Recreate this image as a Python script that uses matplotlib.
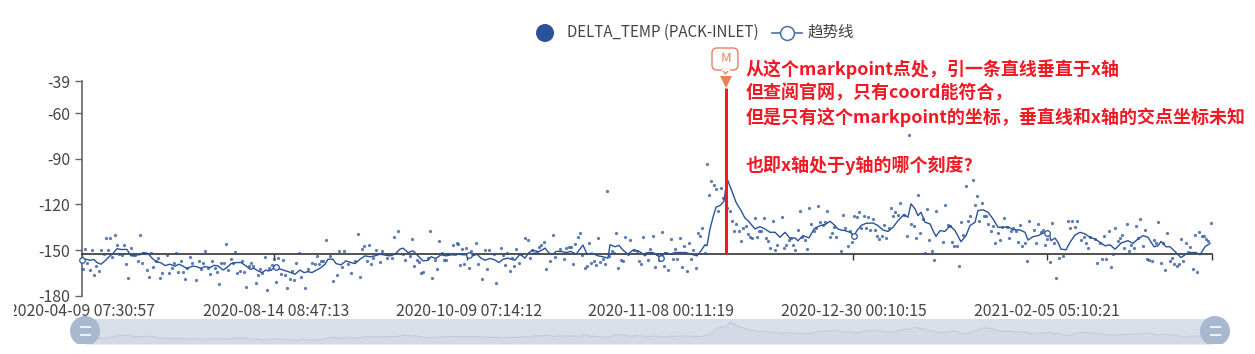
import numpy as np
import matplotlib
matplotlib.use('Agg')
import matplotlib.pyplot as plt
from matplotlib.patches import Circle, FancyBboxPatch, Polygon, Rectangle
from matplotlib.transforms import Bbox

plt.rcParams['font.family'] = ['Noto Sans CJK SC', 'DejaVu Sans']

W, H = 1255, 354

# sample position along the category axis / value
trend_x = [0,4,8,12,15,19,23,28,31,35,39,45,49,53,58,61,66,70,74,79,83,88,93,97,101,105,110,114,119,123,128,132,136,141,145,149,154,159,164,168,172,176,180,184,
    186,189,193,196,201,204,209,213,218,222,226,230,234,239,243,246,251,254,259,264,269,273,278,283,288,293,298,303,308,313,318,321,326,331,336,341,346,349,354,359,364,369,374,
    376,381,387,391,395,399,403,408,412,417,421,426,430,433,438,443,447,451,456,460,463,468,471,474,479,484,489,494,501,505,510,516,521,526,528,533,537,541,546,551,556,559,563,
    566,571,576,579,583,588,593,599,604,609,615,619,623,625,628,631,634,638,642,645,649,654,659,663,666,673,678,683,688,693,698,703,708,713,716,721,727,732,738,743,748,753,
    756,759,763,768,772,775,779,784,791,796,801,806,811,816,822,826,829,833,836,839,843,848,851,854,858,863,868,873,879,884,888,893,896,901,906,911,916,921,926,931,938,943,
    946,951,956,961,967,969,973,976,979,984,988,993,998,1003,1008,1013,1018,1023,1028,1033,1039,1046,1051,1056,1061,1066,1072,1076,1079,1084,1088,1094,1099,1104,1109,1114,1118,1123,1128]
trend_val = [-156.7,-156,-156.7,-156.2,-158.2,-159.3,-157.1,-153.8,-152.2,-149.1,-149.6,-149.6,-153.8,-153.1,-153.1,-151.6,-152.2,-155.3,-157.5,-158.4,-160.2,-159.3,-160.6,-159.3,-160.6,-162.2,-160.6,-160.8,-162,-160.8,-161.5,-160,-160.4,-163.1,-161.5,-158.9,-158.2,-158.2,-160.4,-162.6,-162,-163.7,-164.8,-163.1,
    -163.7,-163.3,-161,-162,-163.1,-163.7,-164.8,-165.9,-163.1,-164.8,-164.2,-164.8,-163.3,-161.5,-159.3,-156,-156,-158.9,-159.7,-157.1,-158.2,-158.9,-156,-153.8,-154.4,-153.8,-152.7,-153.3,-153.8,-152.7,-149.4,-148.7,-151.6,-150.5,-153.8,-157.1,-156.7,-154.4,-155.5,-153.1,-153.8,-153.1,-153.3,
    -152.7,-153.1,-153.1,-153.8,-152.7,-155.3,-156.7,-155.5,-156.2,-158.2,-156,-155.3,-156.2,-156.7,-152.7,-155.3,-151.6,-150,-151.1,-150,-148.7,-152.7,-152.7,-150.9,-150.9,-151.6,-150.9,-152.7,-146.7,-152.7,-152,-153.8,-154.4,-155.3,-146.5,-147.8,-146.9,-150,-152.7,-150,-150.5,-151.6,-153.8,
    -151.6,-151.6,-153.8,-155.3,-151.6,-152.7,-151.6,-151.6,-151.6,-152.7,-153.8,-150.5,-146.5,-147.2,-136.1,-128.4,-121.8,-120.7,-117.8,-103,-109.6,-118.5,-124,-129,-130.6,-136.1,-134.6,-136.1,-138.3,-138.3,-141.6,-138.3,-142.3,-142,-143.9,-140.5,-142,-136.1,-133.9,-133.3,-131,-133.9,
    -136.1,-136.8,-137.2,-138.3,-140.5,-137.2,-133.9,-132.4,-132.2,-133.9,-136.8,-137.7,-135,-130.6,-126.6,-128.4,-119.6,-122.9,-127.3,-125.1,-131.7,-132.8,-137.2,-141,-137.2,-137.7,-133.9,-137.2,-144.5,-140.5,-133.9,-131.7,-124,-123.5,-125.1,-129.5,-135,-135,-134.6,-136.6,-136.8,-138.3,
    -143.4,-141.2,-140.5,-138.8,-138.8,-143.8,-142.1,-144.9,-149.4,-149.8,-144.9,-140.1,-138.3,-139.4,-141.6,-142.7,-144.9,-147.2,-146.5,-149.4,-145.4,-143.8,-145.6,-142.7,-140.5,-141.6,-147.8,-147.2,-144.3,-147.8,-147.8,-151.6,-154.9,-152.7,-151.6,-151.6,-153.1,-147.8,-145.6]

dot_x = [1,3,5,8,10,12,14,17,19,22,24,26,28,30,33,35,37,40,42,44,46,49,51,53,56,58,60,62,65,67,69,71,74,76,78,80,85,87,90,92,94,96,99,101,103,105,108,110,114,117,119,121,123,126,128,130,133,135,137,139,142,144,146,149,151,153,155,158,160,162,164,167,169,171,174,176,178,180,183,185,
    187,190,192,194,196,199,201,203,205,208,210,212,214,217,219,223,226,230,233,235,237,239,241,244,248,251,255,257,260,262,266,269,273,276,278,280,282,285,287,289,291,294,298,300,305,310,312,316,321,323,328,330,332,335,337,339,341,346,348,350,353,355,357,360,362,364,366,371,375,
    376,378,380,382,384,387,389,394,396,400,403,405,407,412,414,419,421,423,425,428,430,432,434,437,439,443,446,448,450,452,455,457,459,462,464,468,471,473,478,482,484,487,489,491,493,496,498,500,503,505,507,509,512,514,516,518,521,523,525,527,530,532,534,536,539,541,543,546,548,552,555,557,559,561,564,
    566,568,571,573,575,577,580,582,584,586,589,591,593,595,598,600,602,605,607,609,611,614,616,618,620,623,625,627,629,632,634,636,639,641,645,648,650,652,654,657,659,661,664,666,668,670,673,675,677,679,682,684,686,688,691,693,695,700,702,704,707,709,711,713,716,718,720,723,725,727,729,732,734,736,738,741,743,745,748,750,752,754,
    759,761,763,766,768,770,772,775,777,779,782,784,786,788,791,793,795,797,800,802,804,807,809,811,813,816,818,822,825,827,829,832,834,836,838,841,843,845,847,850,852,854,861,863,866,868,870,872,875,877,879,881,884,886,888,891,893,895,897,900,902,904,906,909,911,913,916,918,920,922,925,927,929,931,934,936,938,940,943,945,
    947,952,954,956,959,961,963,965,968,970,972,974,977,981,986,988,990,993,995,999,1002,1004,1006,1008,1013,1015,1018,1020,1022,1024,1027,1029,1031,1033,1036,1038,1040,1042,1045,1047,1049,1052,1054,1056,1058,1061,1063,1065,1067,1070,1072,1074,1076,1079,1081,1083,1085,1088,1090,1092,1095,1097,1099,1101,1104,1106,1108,1111,1113,1115,1117,1120,1122,1124,1126,1129]
dot_val = [-162.2,-149.4,-158.6,-163.1,-150,-166.6,-160.4,-163.7,-149.8,-152.7,-142.1,-150,-142.3,-154.4,-139.9,-146.7,-152.7,-153.1,-146.9,-158.9,-168.6,-148.7,-153.3,-153.1,-157.1,-139.9,-158.2,-152,-163.3,-167.5,-152,-160.8,-157.1,-155.5,-168.1,-164.8,-153.1,-165.3,-162,-158.2,-151.6,-164.4,-157.5,-164.4,-169,-162,-154.4,-158.6,-169.7,-157.1,-162.6,-158.4,-150.7,-161.5,-165.9,-157.1,-162,-164.2,-172.1,-158.6,-158.6,-146.3,-163.3,-155.8,-158.2,-151.4,-164.8,-163.7,-157.5,-164.4,-174.5,-160.4,-158.6,-160.4,-171.9,-166.4,-162.2,-164.8,-154.4,-176.1,
    -162,-159.5,-155.8,-171,-155.5,-165.5,-156.7,-166.6,-175,-169,-163.9,-169.9,-158.6,-151.6,-167.7,-174.8,-162.2,-158.6,-159.1,-154.2,-159.3,-157.3,-157.1,-143.4,-153.8,-170.3,-166.6,-150.9,-161.3,-150.5,-159.3,-164.8,-157.1,-139.2,-167.9,-149.6,-147.6,-157.1,-146.7,-159.3,-155.5,-150,-157.8,-150.5,-154.9,-154.9,-141.4,-137.2,-152.7,-156.7,-153.8,-142.5,-160.4,-156.7,-157.8,-164.8,-164.2,-154.9,-137.4,-168.4,-156.7,-162.2,-144.1,-152,-156.7,-156.4,-152.7,-146.9,-145.6,
    -145.8,-160,-149.6,-158.9,-148.9,-161.7,-150.5,-145.6,-159.3,-168.8,-149.8,-162.2,-150,-152.7,-171.4,-148.7,-153.3,-159.5,-152,-163.7,-154.9,-160.4,-149.4,-158.2,-152.7,-142.3,-143.4,-154.9,-150,-151.6,-151.1,-147.8,-146.5,-145,-162.2,-157.3,-140.1,-154.7,-149.4,-155.8,-148.5,-147.8,-148.3,-159.1,-146,-141.2,-139,-153.3,-162,-160.6,-145.6,-158.2,-157.3,-160,-142.1,-158,-155.8,-159.3,-111.4,-153.6,-150.5,-151.6,-138.8,-161.5,-156.7,-157.5,-141.4,-152.7,-143.4,-150,-150.9,-157.1,-159.3,-141.6,-151.6,
    -156.4,-149.6,-140.8,-161.1,-152.7,-156.4,-138.3,-160.4,-152.2,-163.3,-142.7,-156,-149.4,-156,-142.3,-161.1,-147.2,-163.7,-145.6,-155.6,-150,-161.7,-139,-140.8,-135.5,-151.6,-93.5,-113.6,-104.3,-107.4,-109.6,-124,-109,-115.6,-122.2,-124.2,-130.6,-137.7,-132.8,-137.2,-144,-135.5,-133.9,-139.4,-141.2,-142.3,-128.8,-141.6,-137.2,-137.2,-128.8,-142,-143.9,-148.7,-130.6,-149.8,-146.9,-128.2,-148.5,-146.5,-143.4,-142,-146.9,-149.8,-136.8,-124.2,-141.2,-143.4,-149.6,-122.6,-132.8,-137.2,-135.5,-120.7,-131.3,-133.5,-131.3,-124.2,-141.2,-139,-134.6,-141.2,
    -150.5,-126.6,-135.5,-147.2,-137.7,-145,-127.7,-128,-125.1,-135.5,-127.7,-135.5,-128.2,-137,-129.7,-137,-140.8,-142.7,-140.8,-133.3,-142.3,-135.7,-122.4,-127.7,-124.9,-126.6,-118.9,-126.6,-141,-74,-132.8,-133.9,-141.9,-114,-139,-129.5,-151.8,-123.3,-143.2,-150.9,-156.7,-124.6,-144.7,-120.4,-133.5,-133.9,-144.5,-147.6,-147.6,-160.6,-131.7,-140.1,-107.6,-130.8,-127.3,-103.7,-120.2,-114.7,-131,-119.3,-127.3,-127.3,-132.8,-137.2,-134.4,-145.4,-139,-143.2,-135,-128.8,-135,-142.1,-137.2,-135.5,-137.2,-144.5,-133.5,-147.6,-145.4,-157.3,
    -130.8,-136.8,-145.2,-132.6,-138.1,-136.8,-146.7,-142.7,-158,-132.4,-145.2,-168.6,-154.9,-153.8,-130.8,-135.7,-130.8,-134.8,-131,-143.4,-141.2,-145.2,-148.9,-141.6,-143,-158.4,-145.6,-155.8,-140.8,-155.6,-137.4,-160.8,-152.7,-135.2,-143.8,-142.3,-139.9,-148.9,-133,-150.9,-146.9,-148.7,-134.1,-142.3,-129.3,-147.4,-136.8,-155.6,-156.2,-156.9,-143.2,-145.4,-131.7,-158.2,-145.4,-163.3,-138.8,-157.5,-155.1,-159,-160.6,-159,-143,-157.5,-145.4,-151.1,-148.3,-162.2,-140.1,-164.6,-138.1,-141,-141,-142.5,-143.8,-132.1]

y_ticks = [-39, -60, -90, -120, -150, -180]
x_label_pos = [0, 194, 387, 579, 772, 965]
x_labels = ['2020-04-09 07:30:57', '2020-08-14 08:47:13', '2020-10-09 07:14:12',
            '2020-11-08 00:11:19', '2020-12-30 00:10:15', '2021-02-05 05:10:21']
x_tick_pos = [0, 192, 385, 578, 771, 965, 1130]

mark_x = 644
mark_val = -43.4
axis_cross = -152.5

note_lines = ['从这个markpoint点处，引一条直线垂直于x轴',
              '但查阅官网，只有coord能符合，',
              '但是只有这个markpoint的坐标，垂直线和x轴的交点坐标未知',
              '',
              '也即x轴处于y轴的哪个刻度?']

blue = '#2a5298'
red = '#f01a24'
orange = '#e8805f'
grey_text = '#444444'

fig = plt.figure(figsize=(W / 100, H / 100), dpi=100)

top, bottom = 81.3, 295.7
ax = fig.add_axes([82 / W, 1 - bottom / H, (1212 - 82) / W, (bottom - top) / H])
ax.set_xlim(0, 1130)
ax.set_ylim(-180, -39)
ax.patch.set_alpha(0)

ax.scatter(dot_x, dot_val, s=5.5, color=blue, alpha=0.75, linewidths=0, zorder=3, clip_on=False)
ax.plot(trend_x, trend_val, color=blue, lw=1.0, zorder=4, clip_on=False)
# hollow symbols shown at the labelled samples
sym_val = np.interp(x_label_pos, trend_x, trend_val)
ax.plot(x_label_pos, sym_val, 'o', ms=4, mfc='white', mec=blue, mew=0.9, ls='none', zorder=5, clip_on=False)

ax.spines['top'].set_visible(False)
ax.spines['right'].set_visible(False)
ax.spines['left'].set_color('#666666')
ax.spines['left'].set_linewidth(1.2)
ax.spines['bottom'].set_position(('data', axis_cross))
ax.spines['bottom'].set_color('#333333')
ax.spines['bottom'].set_linewidth(1.2)
ax.set_yticks(y_ticks)
ax.set_yticklabels([str(v) for v in y_ticks], fontsize=11.4, color=grey_text)
ax.tick_params(axis='y', length=5, width=1, color='#666666', pad=3.5)
ax.set_xticks(x_tick_pos)
ax.set_xticklabels([])
ax.tick_params(axis='x', length=4, width=1, color='#333333')

for pos, lab in zip(x_label_pos, x_labels):
    t = ax.text(pos, (bottom - 311) / (bottom - top), lab, transform=ax.get_xaxis_transform(),
                ha='center', va='center', fontsize=11.4, color=grey_text)
    t.set_clip_on(True)
    t.set_clip_box(Bbox([[14, 0], [W, H]]))

# red line drawn on the picture and the mark point above it
ax.plot([mark_x, mark_x], [axis_cross, mark_val], color=red, lw=2.2, zorder=6, solid_capstyle='butt', clip_on=False)

# whole figure overlay, in pixels, for legend and decorations
ov = fig.add_axes([0, 0, 1, 1])
ov.set_xlim(0, W)
ov.set_ylim(H, 0)
ov.axis('off')
ov.patch.set_alpha(0)

ov.add_patch(Circle((545, 33), 9, color=blue, lw=0))
ov.text(567, 32.5, 'DELTA_TEMP (PACK-INLET)', fontsize=10.85, color=grey_text, va='center', ha='left')
ov.plot([772, 802], [33, 33], color='#4a6fa5', lw=1.2)
ov.plot([787], [33], 'o', ms=10, mfc='white', mec='#4a6fa5', mew=1.1)
ov.text(808, 32.5, '趋势线', fontsize=11.2, color=grey_text, va='center', ha='left')

ov.add_patch(FancyBboxPatch((715, 51), 20, 16, boxstyle='round,pad=3,rounding_size=5',
                            fc='white', ec=orange, lw=1.0, zorder=7))
ov.add_patch(Polygon([[722, 69.5], [729, 69.5], [725.5, 74]], closed=True, fc='white', ec=orange, lw=1.0, zorder=8))
ov.plot([722.5, 728.5], [70, 70], color='white', lw=1.4, zorder=9)
ov.text(725.5, 59, 'M', fontsize=9.5, color=orange, ha='center', va='center', zorder=9)
ov.add_patch(Polygon([[720, 76], [732, 76], [726, 88]], closed=True, fc=orange, ec='none', zorder=8))

for i, line in enumerate(note_lines):
    ov.text(746, 69 + i * 24, line, fontsize=12.95, fontweight='bold', color=red,
            va='center', ha='left', zorder=10)

# data zoom slider with its small overview of the series
sl = fig.add_axes([85 / W, 1 - 344 / H, (1215 - 85) / W, 25 / H], zorder=-1)
sl.set_xlim(0, 1130)
sl.set_ylim(-179, -92)
sl.set_facecolor('#d9dfe9')
for s in sl.spines.values():
    s.set_visible(False)
sl.set_xticks([])
sl.set_yticks([])
sl.fill_between(trend_x, trend_val, -179, color='#d3d9e5', lw=0)
sl.plot(trend_x, trend_val, color='#c4cbd8', lw=0.8)

clip = Rectangle((0, 0), W, 344, transform=ov.transData)
for cx in [85, 1215]:
    c = Circle((cx, 331), 15, fc='#a8b8ce', ec='none', zorder=11)
    ov.add_patch(c)
    c.set_clip_path(clip)
    for by in [327, 335]:
        ov.add_patch(Rectangle((cx - 5, by - 1), 11, 2, fc='#eef1f6', ec='none', zorder=12))

fig.savefig('out.png', dpi=100)
